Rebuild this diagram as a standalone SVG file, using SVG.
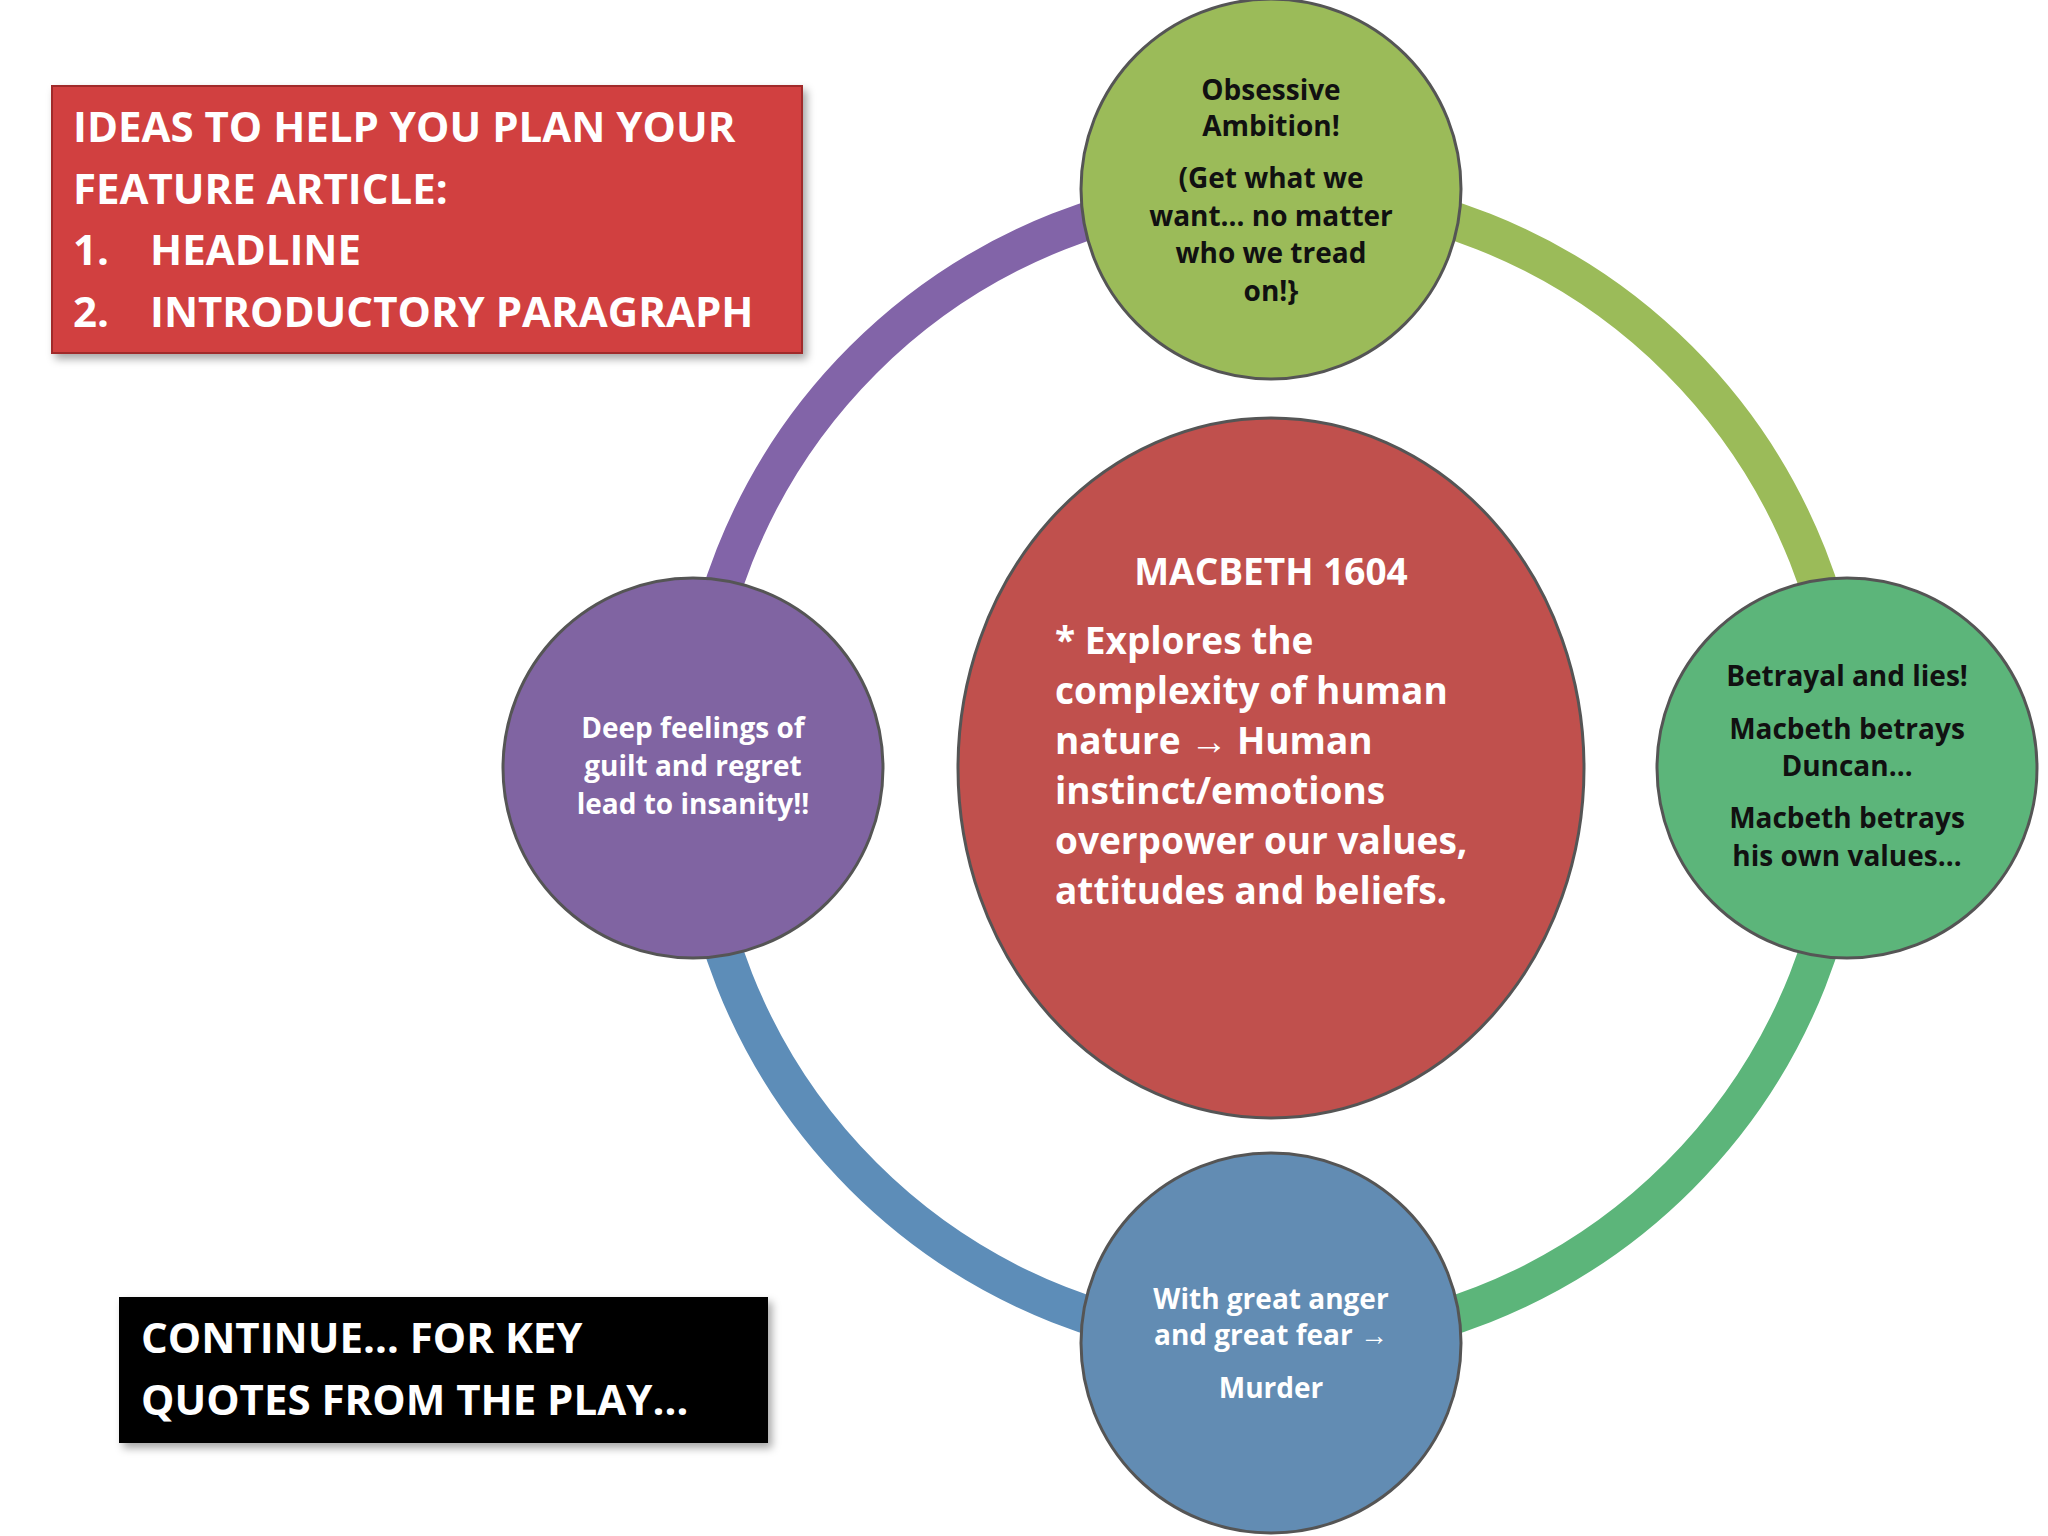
<svg xmlns="http://www.w3.org/2000/svg" width="2048" height="1536" viewBox="0 0 2048 1536">
<defs>
<style>
text{font-family:"Open Sans","Liberation Sans",sans-serif;font-weight:bold}
.c{font-size:28px;text-anchor:middle}
.w{fill:#fff}
.k{fill:#111}
.node{stroke:#555;stroke-width:3}
.ring{fill:none;stroke-width:38}
.b{font-size:42px}
.m{font-size:37px}
</style>
<filter id="sh" x="-10%" y="-10%" width="130%" height="130%"><feDropShadow dx="4" dy="5" stdDeviation="4" flood-opacity="0.35"/></filter>
</defs>
<rect width="2048" height="1536" fill="#fff"/>
<g id="connectors">
<path class="ring" stroke="#8264a8" d="M694,768 A577,577 0 0 1 1271,191"/>
<path class="ring" stroke="#9bbb59" d="M1271,191 A577,577 0 0 1 1848,768"/>
<path class="ring" stroke="#5cb57a" d="M1848,768 A577,577 0 0 1 1271,1345"/>
<path class="ring" stroke="#5d8db8" d="M1271,1345 A577,577 0 0 1 694,768"/>
</g>
<g id="title-box"><rect x="52" y="86" width="750" height="267" fill="#d13f3f" stroke="#a02a2a" stroke-width="2" filter="url(#sh)"/>
<text class="w b" x="73" y="142">IDEAS TO HELP YOU PLAN YOUR</text>
<text class="w b" x="73" y="204">FEATURE ARTICLE:</text>
<text class="w b" x="73" y="265">1.</text><text class="w b" x="150" y="265">HEADLINE</text>
<text class="w b" x="73" y="327">2.</text><text class="w b" x="150" y="327">INTRODUCTORY PARAGRAPH</text></g>
<g id="center"><ellipse class="node" cx="1271" cy="768" rx="313" ry="350" fill="#c0504d"/>
<text class="w m" x="1271" y="585" text-anchor="middle">MACBETH 1604</text>
<text class="w m" x="1055" y="654">* Explores the</text>
<text class="w m" x="1055" y="704">complexity of human</text>
<text class="w m" x="1055" y="754">nature → Human</text>
<text class="w m" x="1055" y="804">instinct/emotions</text>
<text class="w m" x="1055" y="854">overpower our values,</text>
<text class="w m" x="1055" y="904">attitudes and beliefs.</text></g>
<g id="top"><circle class="node" cx="1271" cy="189" r="190" fill="#9bbb59"/>
<text class="c k" x="1271" y="100">Obsessive</text><text class="c k" x="1271" y="136">Ambition!</text>
<text class="c k" x="1271" y="188">(Get what we</text><text class="c k" x="1271" y="226">want… no matter</text>
<text class="c k" x="1271" y="263">who we tread</text><text class="c k" x="1271" y="301">on!}</text></g>
<g id="left"><circle class="node" cx="693" cy="768" r="190" fill="#8064a2"/>
<text class="c w" x="693" y="738">Deep feelings of</text><text class="c w" x="693" y="776">guilt and regret</text><text class="c w" x="693" y="814">lead to insanity!!</text></g>
<g id="right"><circle class="node" cx="1847" cy="768" r="190" fill="#5cb57a"/>
<text class="c k" x="1847" y="686">Betrayal and lies!</text><text class="c k" x="1847" y="739">Macbeth betrays</text>
<text class="c k" x="1847" y="776">Duncan…</text><text class="c k" x="1847" y="828">Macbeth betrays</text><text class="c k" x="1847" y="866">his own values…</text></g>
<g id="bottom"><circle class="node" cx="1271" cy="1343" r="190" fill="#628cb3"/>
<text class="c w" x="1271" y="1309">With great anger</text><text class="c w" x="1271" y="1345">and great fear →</text><text class="c w" x="1271" y="1398">Murder</text></g>
<g id="continue-box"><rect x="119" y="1297" width="649" height="146" fill="#000" filter="url(#sh)"/>
<text class="w b" x="141" y="1353">CONTINUE… FOR KEY</text>
<text class="w b" x="141" y="1415">QUOTES FROM THE PLAY…</text></g>
</svg>
